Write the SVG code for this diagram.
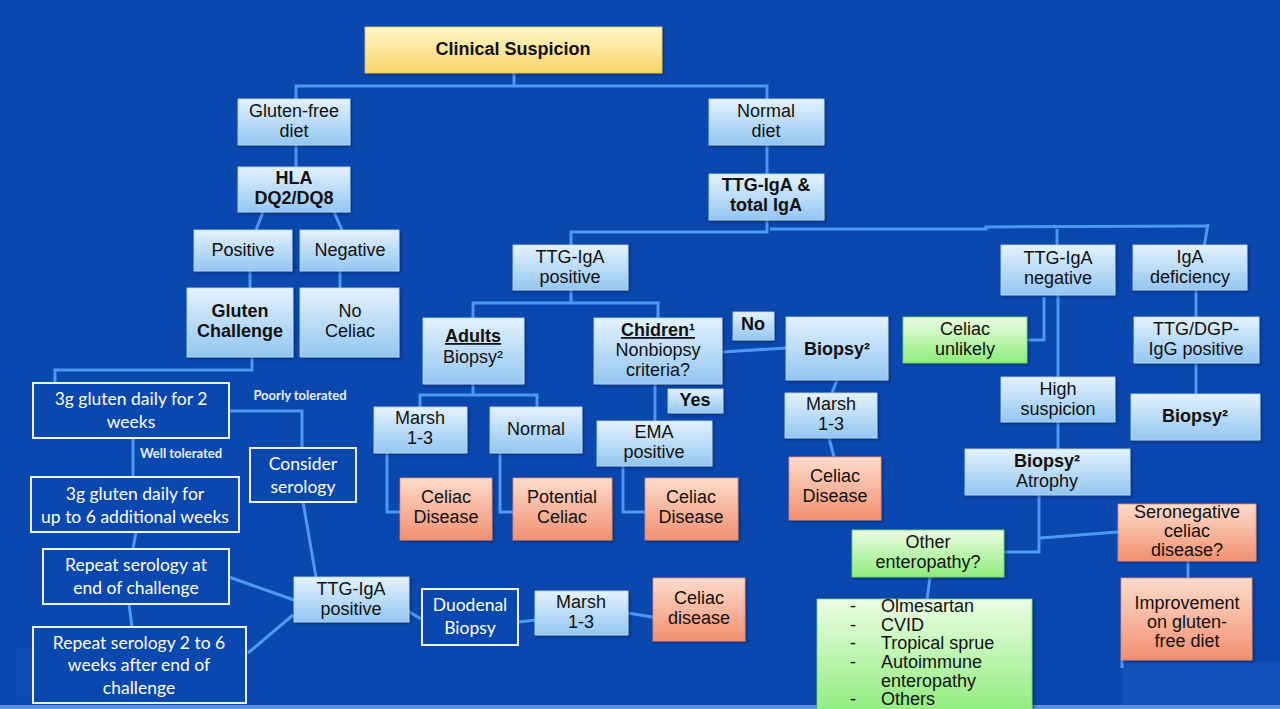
<svg xmlns="http://www.w3.org/2000/svg" width="1280" height="709" viewBox="0 0 1280 709">
<defs>
<linearGradient id="gB" x1="0" y1="0" x2="0" y2="1"><stop offset="0" stop-color="#e4f2fd"/><stop offset="1" stop-color="#93c6f1"/></linearGradient>
<linearGradient id="gS" x1="0" y1="0" x2="0" y2="1"><stop offset="0" stop-color="#fddccc"/><stop offset="1" stop-color="#f19071"/></linearGradient>
<linearGradient id="gG" x1="0" y1="0" x2="0" y2="1"><stop offset="0" stop-color="#ecfde4"/><stop offset="1" stop-color="#8eec7c"/></linearGradient>
<linearGradient id="gY" x1="0" y1="0" x2="0" y2="1"><stop offset="0" stop-color="#fff7c8"/><stop offset="1" stop-color="#f7d46a"/></linearGradient>
<filter id="sh" x="-10%" y="-10%" width="130%" height="130%"><feDropShadow dx="1.5" dy="1.5" stdDeviation="1" flood-color="#001a50" flood-opacity="0.6"/></filter>
</defs>
<style>
.b{fill:url(#gB);stroke:#b9d9f5;stroke-width:0.8;filter:url(#sh)}
.s{fill:url(#gS);stroke:#e98a70;stroke-width:0.8;filter:url(#sh)}
.g{fill:url(#gG);stroke:#6fd45c;stroke-width:0.8;filter:url(#sh)}
.y{fill:url(#gY);stroke:#e8c050;stroke-width:0.8;filter:url(#sh)}
.d{fill:#0a47ae;stroke:#eef4ff;stroke-width:2}
.t{font-family:"Liberation Sans",Arial,sans-serif;font-size:18px;fill:#111;text-anchor:middle}
.tb{font-family:"Liberation Sans",Arial,sans-serif;font-size:18px;font-weight:bold;fill:#111;text-anchor:middle}
.tl{font-family:"Liberation Sans",Arial,sans-serif;font-size:18px;fill:#111}
.w{font-family:Lato,"Open Sans",sans-serif;font-size:17.5px;fill:#fff;text-anchor:middle}
.ws{font-family:Lato,"Open Sans",sans-serif;font-size:13px;font-weight:bold;fill:#e8f0ff;text-anchor:middle}
.c line,.c polyline{stroke:#4d9af2;stroke-width:3;fill:none}
</style>
<rect x="0" y="0" width="1280" height="709" fill="#0a47ae"/>
<rect x="16" y="648" width="51" height="49" fill="#0d4bb2"/>
<rect x="1122" y="662" width="158" height="44" fill="#1150b6"/>
<rect x="0" y="705" width="1280" height="4" fill="#5a8fdc"/>

<g class="c">
<polyline points="514,73 514,86"/>
<polyline points="296,99 296,86 767,86 767,99"/>
<line x1="296" y1="145" x2="296" y2="167"/>
<line x1="263" y1="212" x2="256" y2="230"/>
<line x1="334" y1="212" x2="342" y2="230"/>
<line x1="250" y1="271" x2="250" y2="288"/>
<line x1="340" y1="271" x2="340" y2="288"/>
<polyline points="252,357 252,370 55,370 55,383"/>
<polyline points="229,411 302,411 302,448"/>
<line x1="133" y1="438" x2="133" y2="477"/>
<line x1="136" y1="532" x2="133" y2="549"/>
<line x1="129" y1="604" x2="132" y2="627"/>
<line x1="303" y1="502" x2="316" y2="577"/>
<line x1="229" y1="577" x2="294" y2="600"/>
<line x1="248" y1="653" x2="293" y2="615"/>
<line x1="408" y1="611" x2="421" y2="619"/>
<line x1="518" y1="622" x2="536" y2="620"/>
<line x1="628" y1="613" x2="658" y2="618"/>
<line x1="767" y1="145" x2="767" y2="174"/>
<polyline points="767,220 767,232 571,232 571,245"/>
<polyline points="770,229 986,229 986,227 1208,226"/>
<line x1="1057" y1="229" x2="1057" y2="245"/>
<line x1="1208" y1="224" x2="1204" y2="247"/>
<polyline points="571,290 571,303"/>
<polyline points="473,318 473,303 658,303 658,318"/>
<polyline points="473,384 473,395"/>
<polyline points="420,407 420,395 537,395 537,407"/>
<polyline points="387,453 387,512 400,512"/>
<polyline points="500,453 500,512 513,512"/>
<line x1="655" y1="384" x2="655" y2="421"/>
<polyline points="623,466 623,512 645,512"/>
<line x1="722" y1="352" x2="786" y2="348"/>
<line x1="837" y1="380" x2="832" y2="393"/>
<line x1="829" y1="438" x2="834" y2="457"/>
<polyline points="1027,340 1044,340 1044,297"/>
<line x1="1058" y1="295" x2="1058" y2="449"/>
<line x1="1196" y1="290" x2="1196" y2="317"/>
<line x1="1196" y1="363" x2="1196" y2="394"/>
<polyline points="1039,495 1039,552 1004,552"/>
<line x1="1040" y1="538" x2="1118" y2="532"/>
<line x1="930" y1="577" x2="927" y2="600"/>
<line x1="1188" y1="561" x2="1188" y2="578"/>
<line x1="1122" y1="658" x2="1122" y2="668"/>
</g>

<g id="clinical"><rect class="y" x="365" y="27" width="297" height="46"/><text class="tb" x="513" y="55" font-size="19">Clinical Suspicion</text></g>
<g id="gfdiet"><rect class="b" x="238" y="99" width="112" height="46"/><text class="t" x="294" y="117">Gluten-free</text><text class="t" x="294" y="137">diet</text></g>
<g id="hla"><rect class="b" x="238" y="167" width="112" height="45"/><text class="tb" x="294" y="184">HLA</text><text class="tb" x="294" y="204">DQ2/DQ8</text></g>
<g id="positive"><rect class="b" x="194" y="230" width="98" height="41"/><text class="t" x="243" y="256" font-size="19">Positive</text></g>
<g id="negative"><rect class="b" x="300" y="230" width="99" height="41"/><text class="t" x="350" y="256" font-size="19">Negative</text></g>
<g id="glutenchallenge"><rect class="b" x="187" y="288" width="106" height="69"/><text class="tb" x="240" y="317" font-size="15">Gluten</text><text class="tb" x="240" y="337" font-size="15">Challenge</text></g>
<g id="noceliac"><rect class="b" x="300" y="288" width="99" height="69"/><text class="t" x="350" y="317">No</text><text class="t" x="350" y="337">Celiac</text></g>

<g id="twoweeks"><rect class="d" x="33" y="383" width="196" height="55"/><text class="w" x="131" y="405">3g gluten daily for 2</text><text class="w" x="131" y="428">weeks</text></g>
<text class="ws" x="300" y="400">Poorly tolerated</text>
<text class="ws" x="181" y="458">Well tolerated</text>
<g id="consider"><rect class="d" x="250" y="448" width="106" height="54"/><text class="w" x="303" y="470">Consider</text><text class="w" x="303" y="493">serology</text></g>
<g id="sixweeks"><rect class="d" x="31" y="477" width="208" height="55"/><text class="w" x="135" y="500">3g gluten daily for</text><text class="w" x="135" y="523">up to 6 additional weeks</text></g>
<g id="repeatend"><rect class="d" x="43" y="549" width="186" height="55"/><text class="w" x="136" y="571">Repeat serology at</text><text class="w" x="136" y="594">end of challenge</text></g>
<g id="repeat26"><rect class="d" x="33" y="627" width="213" height="76"/><text class="w" x="139" y="649">Repeat serology 2 to 6</text><text class="w" x="139" y="671">weeks after end of</text><text class="w" x="139" y="694">challenge</text></g>
<g id="ttgposleft"><rect class="b" x="294" y="577" width="115" height="45"/><text class="t" x="351" y="595">TTG-IgA</text><text class="t" x="351" y="615">positive</text></g>
<g id="duodenal"><rect class="d" x="422" y="589" width="96" height="56"/><text class="w" x="470" y="611" font-size="16.5">Duodenal</text><text class="w" x="470" y="634" font-size="16.5">Biopsy</text></g>
<g id="marshbottom"><rect class="b" x="535" y="591" width="93" height="44"/><text class="t" x="581" y="608">Marsh</text><text class="t" x="581" y="628">1-3</text></g>
<g id="celiacbottom"><rect class="s" x="653" y="578" width="92" height="63"/><text class="t" x="699" y="604">Celiac</text><text class="t" x="699" y="624">disease</text></g>

<g id="normaldiet"><rect class="b" x="709" y="99" width="115" height="46"/><text class="t" x="766" y="117">Normal</text><text class="t" x="766" y="137">diet</text></g>
<g id="ttgtotal"><rect class="b" x="709" y="174" width="115" height="46"/><text class="tb" x="766" y="191">TTG-IgA &amp;</text><text class="tb" x="766" y="211">total IgA</text></g>
<g id="ttgposmid"><rect class="b" x="513" y="245" width="115" height="45"/><text class="t" x="570" y="263">TTG-IgA</text><text class="t" x="570" y="283">positive</text></g>
<g id="adults"><rect class="b" x="423" y="318" width="101" height="66"/><text class="tb" x="473" y="342" text-decoration="underline">Adults</text><text class="t" x="473" y="363">Biopsy²</text></g>
<g id="children"><rect class="b" x="594" y="318" width="128" height="66"/><text class="tb" x="658" y="336" text-decoration="underline">Chidren¹</text><text class="t" x="658" y="356">Nonbiopsy</text><text class="t" x="658" y="376">criteria?</text></g>
<g id="no"><rect class="b" x="733" y="312" width="41" height="28"/><text class="tb" x="753" y="330" font-size="13">No</text></g>
<g id="biopsymid"><rect class="b" x="786" y="317" width="102" height="63"/><text class="tb" x="837" y="355" font-size="19">Biopsy²</text></g>
<g id="marsh1"><rect class="b" x="374" y="407" width="93" height="46"/><text class="t" x="420" y="424">Marsh</text><text class="t" x="420" y="444">1-3</text></g>
<g id="normal"><rect class="b" x="490" y="407" width="92" height="46"/><text class="t" x="536" y="435" font-size="19">Normal</text></g>
<g id="yes"><rect class="b" x="668" y="389" width="55" height="24"/><text class="tb" x="695" y="406" font-size="13">Yes</text></g>
<g id="ema"><rect class="b" x="597" y="421" width="115" height="45"/><text class="t" x="654" y="438">EMA</text><text class="t" x="654" y="458">positive</text></g>
<g id="celiac1"><rect class="s" x="400" y="478" width="92" height="62"/><text class="t" x="446" y="503">Celiac</text><text class="t" x="446" y="523">Disease</text></g>
<g id="potential"><rect class="s" x="513" y="478" width="99" height="62"/><text class="t" x="562" y="503">Potential</text><text class="t" x="562" y="523">Celiac</text></g>
<g id="celiac2"><rect class="s" x="645" y="478" width="93" height="62"/><text class="t" x="691" y="503">Celiac</text><text class="t" x="691" y="523">Disease</text></g>
<g id="marsh2"><rect class="b" x="785" y="393" width="92" height="45"/><text class="t" x="831" y="410">Marsh</text><text class="t" x="831" y="430">1-3</text></g>
<g id="celiac3"><rect class="s" x="789" y="457" width="92" height="63"/><text class="t" x="835" y="482">Celiac</text><text class="t" x="835" y="502">Disease</text></g>

<g id="ttgneg"><rect class="b" x="1001" y="245" width="114" height="50"/><text class="t" x="1058" y="264">TTG-IgA</text><text class="t" x="1058" y="284">negative</text></g>
<g id="unlikely"><rect class="g" x="903" y="317" width="124" height="46"/><text class="t" x="965" y="335">Celiac</text><text class="t" x="965" y="355">unlikely</text></g>
<g id="highsusp"><rect class="b" x="1001" y="377" width="114" height="45"/><text class="t" x="1058" y="395">High</text><text class="t" x="1058" y="415">suspicion</text></g>
<g id="atrophy"><rect class="b" x="965" y="449" width="165" height="46"/><text class="tb" x="1047" y="467">Biopsy²</text><text class="t" x="1047" y="487">Atrophy</text></g>
<g id="igadef"><rect class="b" x="1133" y="245" width="114" height="45"/><text class="t" x="1190" y="263">IgA</text><text class="t" x="1190" y="283">deficiency</text></g>
<g id="ttgdgp"><rect class="b" x="1134" y="317" width="125" height="46"/><text class="t" x="1196" y="335">TTG/DGP-</text><text class="t" x="1196" y="355">IgG  positive</text></g>
<g id="biopsyright"><rect class="b" x="1131" y="394" width="129" height="46"/><text class="tb" x="1195" y="422" font-size="19">Biopsy²</text></g>
<g id="otherent"><rect class="g" x="852" y="530" width="152" height="47"/><text class="t" x="928" y="548">Other</text><text class="t" x="928" y="568">enteropathy?</text></g>
<g id="seroneg"><rect class="s" x="1118" y="504" width="138" height="57"/><text class="t" x="1187" y="518">Seronegative</text><text class="t" x="1187" y="537">celiac</text><text class="t" x="1187" y="556">disease?</text></g>
<g id="list"><rect class="g" x="817" y="599" width="215" height="116"/>
<text class="tl" x="850" y="612">-</text><text class="tl" x="881" y="612">Olmesartan</text>
<text class="tl" x="850" y="631">-</text><text class="tl" x="881" y="631">CVID</text>
<text class="tl" x="850" y="649">-</text><text class="tl" x="881" y="649">Tropical sprue</text>
<text class="tl" x="850" y="668">-</text><text class="tl" x="881" y="668">Autoimmune</text>
<text class="tl" x="881" y="687">enteropathy</text>
<text class="tl" x="850" y="705">-</text><text class="tl" x="881" y="705">Others</text></g>
<g id="improve"><rect class="s" x="1121" y="578" width="131" height="82"/><text class="t" x="1187" y="609">Improvement</text><text class="t" x="1187" y="628">on gluten-</text><text class="t" x="1187" y="647">free diet</text></g>
</svg>
